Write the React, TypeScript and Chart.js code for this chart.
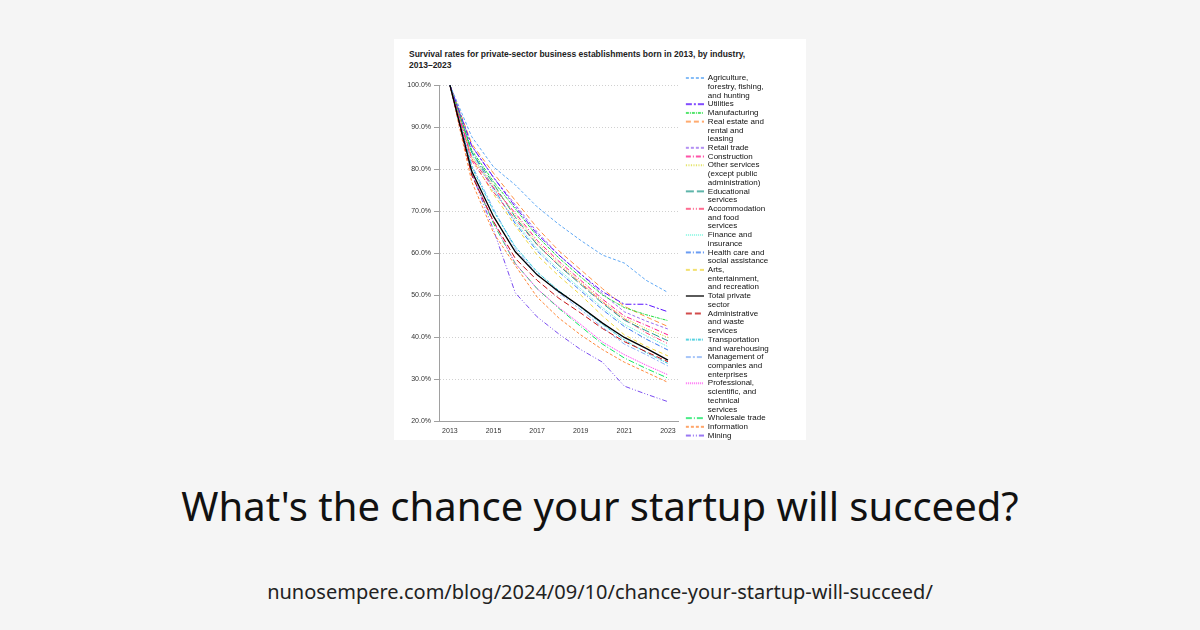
import React, { useEffect, useRef } from "react";
import { Chart, registerables } from "chart.js";

Chart.register(...registerables);

// ---- data ----
const years = ["2013", "2014", "2015", "2016", "2017", "2018", "2019", "2020", "2021", "2022", "2023"];
const yMin = 20;
const yMax = 100;
const yStep = 10;

const agriculture = [100, 87.7, 80.5, 76.2, 71.0, 66.8, 63.0, 59.5, 57.6, 53.5, 50.6];
const utilities = [100, 85.5, 78.0, 71.0, 64.5, 59.5, 55.0, 50.8, 47.8, 47.8, 46.0];
const manufacturing = [100, 84.5, 77.0, 70.5, 64.0, 58.8, 54.3, 50.0, 47.0, 45.3, 43.9];
const realEstate = [100, 86.0, 79.0, 72.5, 66.0, 60.5, 56.0, 51.5, 47.3, 44.8, 42.5];
const retail = [100, 85.5, 78.0, 71.5, 65.0, 59.5, 55.0, 50.3, 46.0, 43.8, 41.9];
const construction = [100, 82.5, 75.5, 69.5, 63.0, 58.0, 53.5, 49.0, 45.0, 42.8, 40.5];
const otherServices = [100, 83.0, 76.0, 69.0, 62.5, 57.5, 53.0, 48.5, 44.5, 42.0, 39.9];
const educational = [100, 84.0, 76.5, 68.5, 62.0, 57.0, 52.5, 48.0, 44.0, 41.5, 39.1];
const accommodation = [100, 82.0, 74.5, 68.0, 62.0, 57.0, 52.8, 48.3, 44.3, 41.0, 38.4];
const finance = [100, 83.5, 75.0, 67.5, 61.0, 56.0, 51.5, 47.0, 43.0, 40.3, 37.7];
const healthCare = [100, 84.0, 75.5, 67.0, 60.5, 55.5, 51.0, 46.5, 42.5, 39.5, 36.9];
const arts = [100, 82.5, 74.0, 66.5, 59.5, 54.5, 50.0, 45.0, 40.5, 37.8, 35.5];
const totalPrivate = [100, 79.5, 68.7, 60.3, 54.8, 50.8, 47.2, 43.3, 39.9, 37.3, 34.5];
const administrative = [100, 78.5, 67.5, 58.7, 53.5, 49.2, 45.7, 42.0, 38.9, 36.5, 34.1];
const transportation = [100, 80.5, 70.0, 61.5, 55.5, 51.0, 47.0, 43.0, 39.3, 36.3, 33.7];
const management = [100, 81.0, 70.5, 61.0, 55.0, 50.5, 46.5, 42.3, 38.3, 35.8, 33.1];
const professional = [100, 79.0, 67.5, 57.5, 51.5, 47.0, 43.0, 38.8, 35.8, 33.3, 31.0];
const wholesale = [100, 79.0, 67.0, 57.5, 51.5, 46.8, 42.5, 38.3, 35.0, 32.5, 30.2];
const information = [100, 77.0, 64.8, 57.0, 49.5, 44.5, 40.5, 37.0, 34.0, 31.6, 29.2];
const mining = [100, 79.0, 65.5, 50.5, 44.8, 40.7, 37.0, 34.0, 28.3, 26.4, 24.6];

const labelLines: string[][] = [
  ["Agriculture,", "forestry, fishing,", "and hunting"],
  ["Utilities"],
  ["Manufacturing"],
  ["Real estate and", "rental and", "leasing"],
  ["Retail trade"],
  ["Construction"],
  ["Other services", "(except public", "administration)"],
  ["Educational", "services"],
  ["Accommodation", "and food", "services"],
  ["Finance and", "insurance"],
  ["Health care and", "social assistance"],
  ["Arts,", "entertainment,", "and recreation"],
  ["Total private", "sector"],
  ["Administrative", "and waste", "services"],
  ["Transportation", "and warehousing"],
  ["Management of", "companies and", "enterprises"],
  ["Professional,", "scientific, and", "technical", "services"],
  ["Wholesale trade"],
  ["Information"],
  ["Mining"],
];

const seriesData = [
  agriculture, utilities, manufacturing, realEstate, retail, construction, otherServices,
  educational, accommodation, finance, healthCare, arts, totalPrivate, administrative,
  transportation, management, professional, wholesale, information, mining,
];

// ---- styles ----
const seriesColors = [
  "#5fa8f5", "#5a12ff", "#1ddd3c", "#ff9040", "#9b6cf0", "#ff1a8c", "#d8d820",
  "#2a9d8f", "#ff3d6e", "#5cf5d8", "#3a7cf0", "#f0d840", "#000000", "#c41010",
  "#22c5d8", "#8ab4f8", "#ff2af0", "#10e860", "#ff8838", "#7a4cf0",
];
const seriesDashes: number[][] = [
  [3, 2], [6, 2, 2, 2], [3, 1, 1, 1], [5, 3], [3, 2], [5, 2, 1, 2], [1, 1.5],
  [8, 3], [5, 2, 1, 2, 1, 2], [1, 1], [5, 2, 1, 2], [4, 3], [], [6, 3],
  [3, 1, 1, 1], [5, 2, 2, 2], [1, 1], [6, 2, 1, 2], [3, 2], [5, 2, 1, 2, 1, 2],
];

const CHART_FONT = "'Liberation Sans', Arial, sans-serif";

function makeLegendSample(color: string, dash: number[]): HTMLCanvasElement {
  const cv = document.createElement("canvas");
  cv.width = 25;
  cv.height = 4;
  const g = cv.getContext("2d");
  if (g) {
    g.strokeStyle = color;
    g.lineWidth = 1.3;
    g.setLineDash(dash);
    g.beginPath();
    g.moveTo(7, 2);
    g.lineTo(25, 2);
    g.stroke();
  }
  return cv;
}

export default function App() {
  const ref = useRef<HTMLCanvasElement>(null);

  useEffect(() => {
    if (!ref.current) return;
    const samples = seriesColors.map((c, i) => makeLegendSample(c, seriesDashes[i]));
    const chart = new Chart(ref.current, {
      type: "line",
      data: {
        labels: years,
        datasets: seriesData.map((d, i) => ({
          label: labelLines[i].join(" "),
          data: d,
          borderColor: seriesColors[i],
          backgroundColor: seriesColors[i],
          borderWidth: i === 12 ? 1.3 : 1,
          borderDash: seriesDashes[i],
          pointRadius: 0,
          tension: 0,
          fill: false,
          order: i === 12 ? -1 : 0,
        })),
      },
      options: {
        animation: false,
        responsive: false,
        events: [],
        font: { family: CHART_FONT },
        layout: { padding: { left: 0, top: 0, right: 32.2, bottom: 0 } },
        plugins: {
          title: { display: false },
          tooltip: { enabled: false },
          legend: {
            position: "right",
            align: "start",
            labels: {
              usePointStyle: true,
              pointStyleWidth: 25,
              padding: 0,
              color: "#111",
              font: { family: CHART_FONT, size: 8, lineHeight: 1.09 },
              generateLabels: () =>
                labelLines.map((lines, i) => ({
                  text: lines as any,
                  fillStyle: seriesColors[i],
                  strokeStyle: seriesColors[i],
                  lineWidth: 1,
                  lineDash: [],
                  pointStyle: samples[i],
                  hidden: false,
                  datasetIndex: i,
                  fontColor: "#111",
                })) as any,
            },
          },
        },
        scales: {
          x: {
            type: "category",
            offset: true,
            grid: { display: false, drawTicks: false },
            border: { display: true, color: "#a0a0a0" },
            ticks: {
              autoSkip: false,
              maxRotation: 0,
              padding: 6,
              color: "#333",
              font: { size: 7 },
              callback: (_v: any, i: number) => (i % 2 === 0 ? years[i] : ""),
            },
            afterFit: (s: any) => {
              s.height = 38;
            },
          },
          y: {
            min: yMin,
            max: yMax,
            ticks: {
              stepSize: yStep,
              padding: 3,
              color: "#333",
              font: { size: 7 },
              callback: (v: any) => Number(v).toFixed(1) + "%",
            },
            grid: { color: "#d0d0d0", tickColor: "#a0a0a0", tickLength: 5, drawTicks: true },
            border: { color: "#a0a0a0", dash: [1, 2] },
            afterFit: (s: any) => {
              s.width = 45;
              s.paddingTop = 11;
            },
          },
        },
      } as any,
    });
    return () => chart.destroy();
  }, []);

  return (
    <div
      style={{
        position: "absolute",
        left: 0,
        top: 0,
        width: 1200,
        height: 630,
        background: "#f5f5f5",
        overflow: "hidden",
      }}
    >
      <div
        style={{
          position: "absolute",
          left: 394,
          top: 39,
          width: 412,
          height: 401,
          background: "#ffffff",
          overflow: "hidden",
        }}
      >
        <div
          style={{
            position: "absolute",
            left: 15,
            top: 9.5,
            font: "bold 8.5px 'Liberation Sans', Arial, sans-serif",
            lineHeight: "11px",
            color: "#222",
            whiteSpace: "nowrap",
          }}
        >
          Survival rates for private-sector business establishments born in 2013, by industry,
          <br />
          2013–2023
        </div>
        <div style={{ position: "absolute", left: 0, top: 35, width: 412, height: 385 }}>
          <canvas ref={ref} width={412} height={385} style={{ display: "block" }} />
        </div>
      </div>
      <div
        style={{
          position: "absolute",
          left: 0,
          top: 479,
          width: 1200,
          textAlign: "center",
          fontFamily: "'Noto Sans', 'Open Sans', sans-serif",
          fontSize: 40,
          lineHeight: "54px",
          color: "#111",
          whiteSpace: "nowrap",
        }}
      >
        What's the chance your startup will succeed?
      </div>
      <div
        style={{
          position: "absolute",
          left: 0,
          top: 578,
          width: 1200,
          textAlign: "center",
          fontFamily: "'Noto Sans', 'Open Sans', sans-serif",
          fontSize: 20,
          lineHeight: "28px",
          color: "#222",
          whiteSpace: "nowrap",
        }}
      >
        nunosempere.com/blog/2024/09/10/chance-your-startup-will-succeed/
      </div>
    </div>
  );
}
